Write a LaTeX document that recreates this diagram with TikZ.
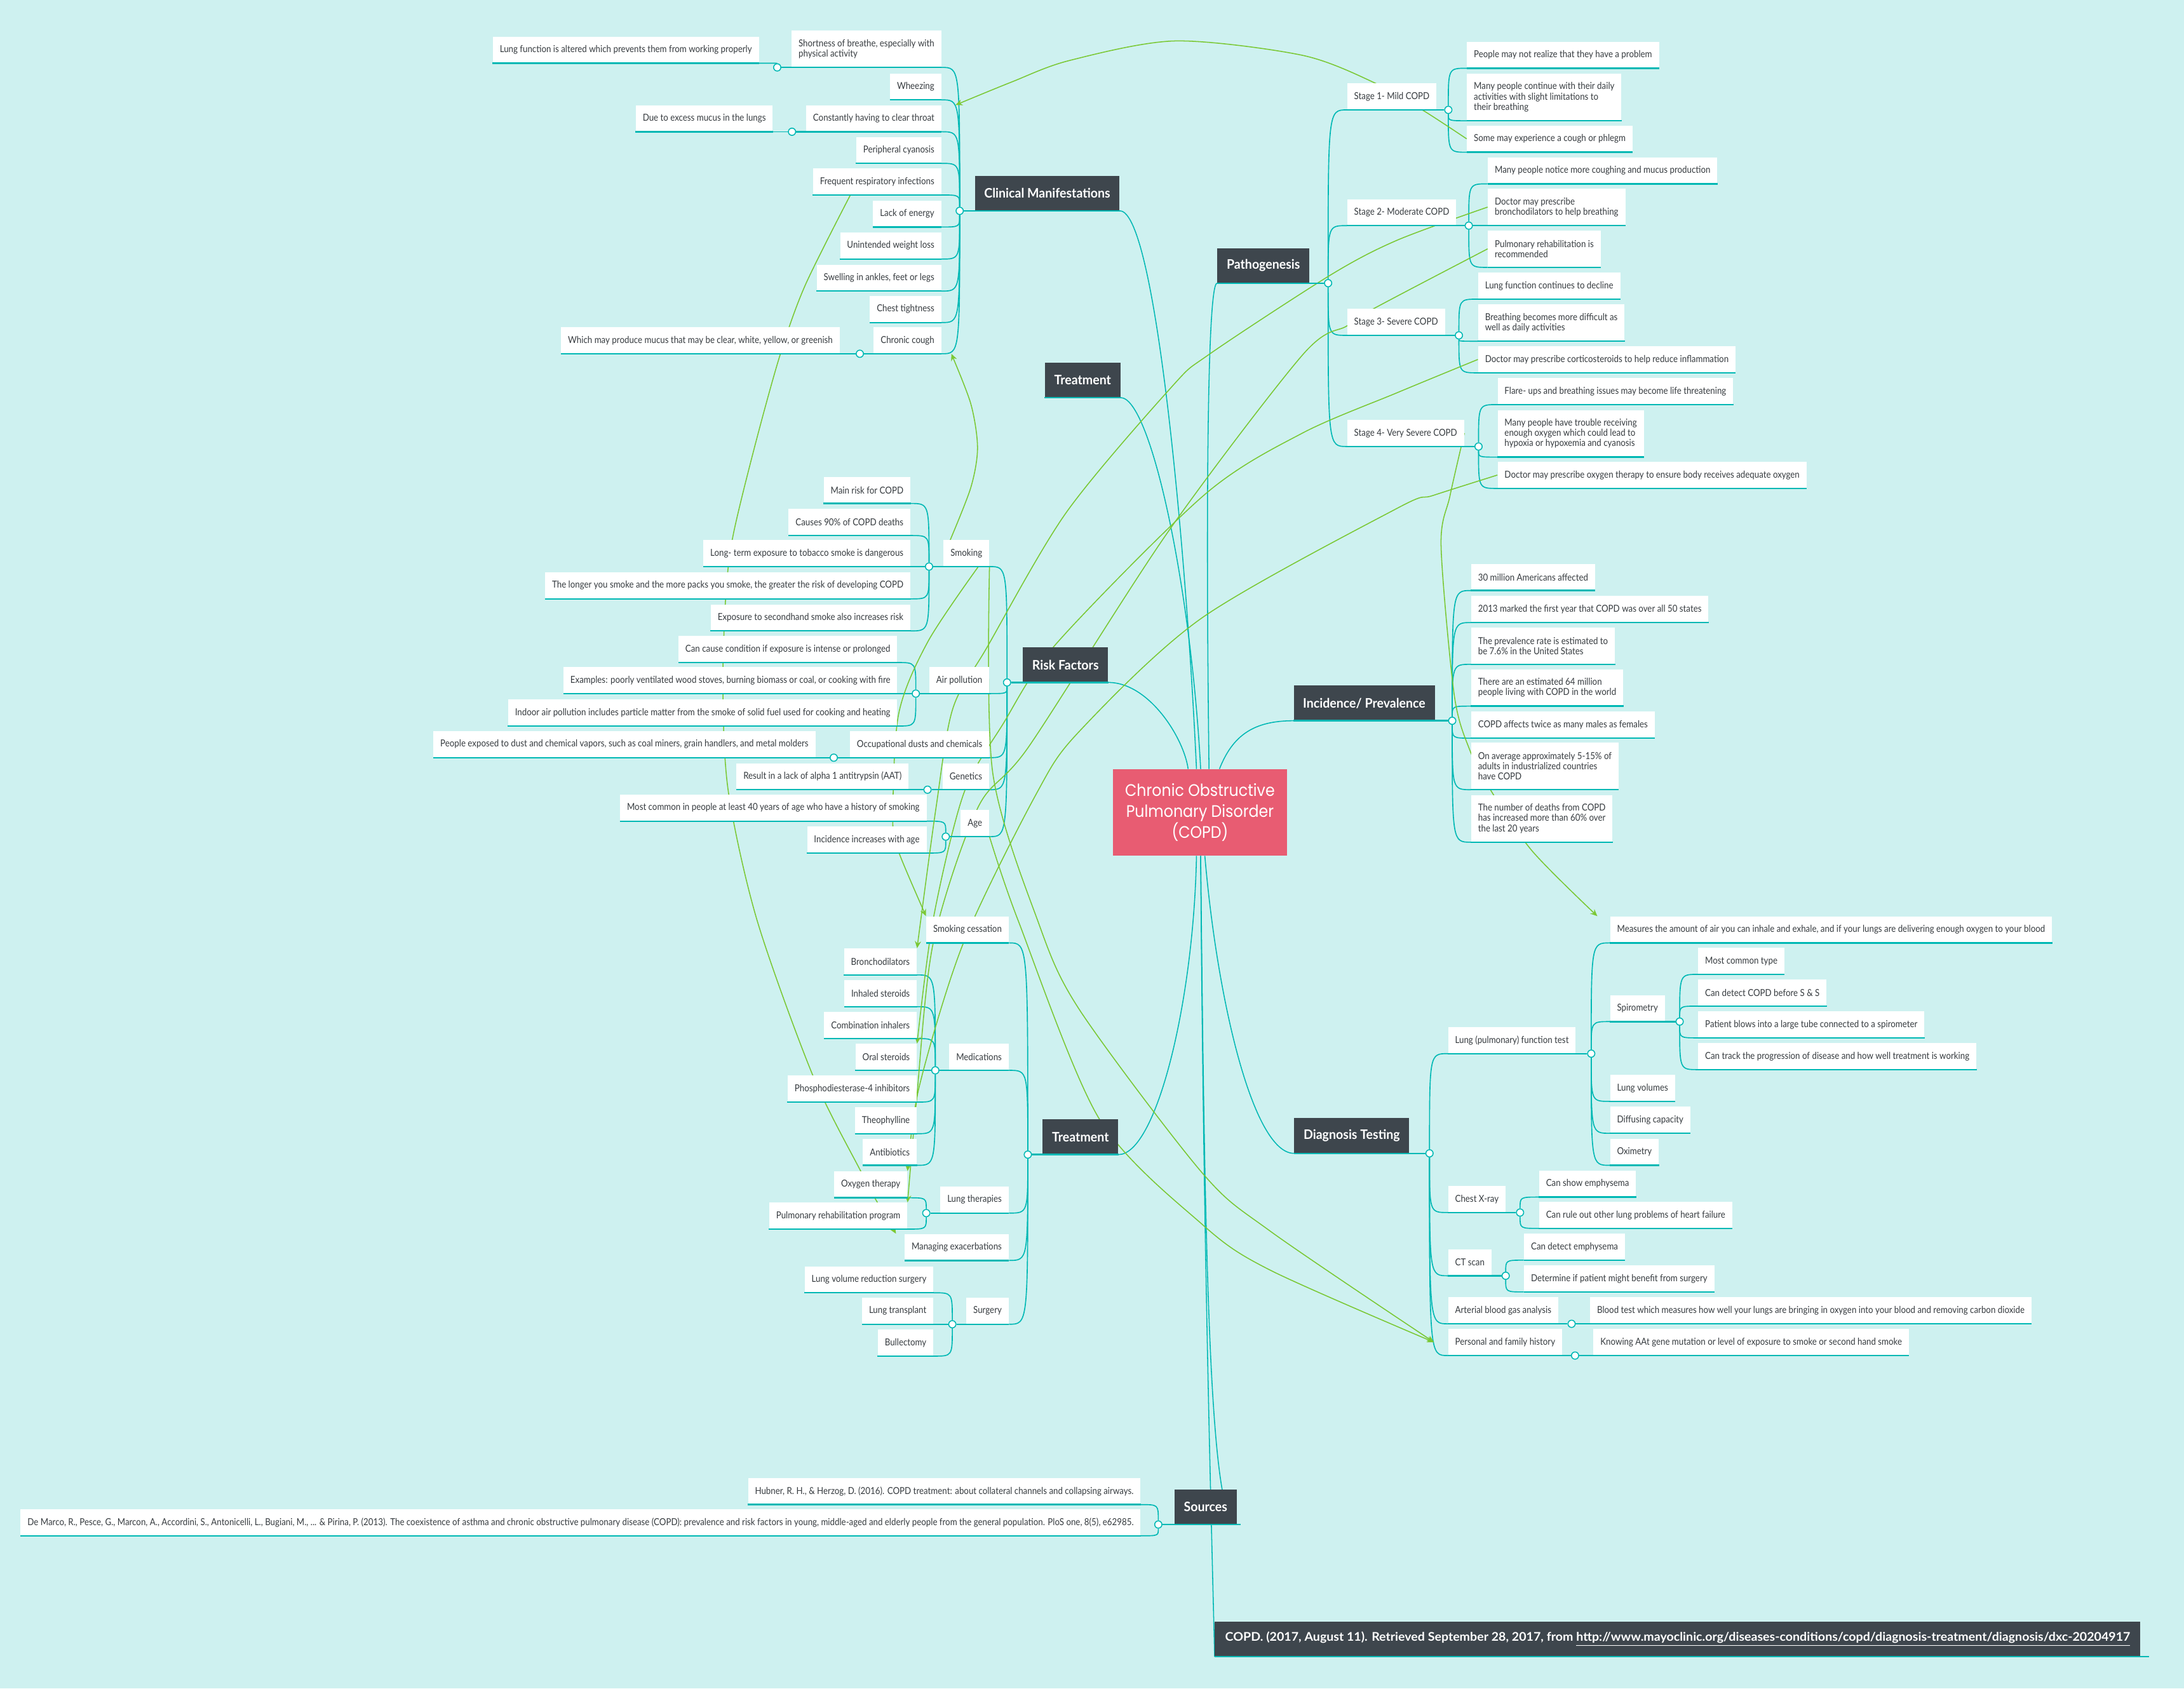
\documentclass[tikz,border=0pt]{standalone}
\usepackage{fontspec}
\usepackage{tikz}
\usetikzlibrary{arrows.meta, calc}

\setmainfont{Lato}
\newfontfamily\leaffont{Lato}[FakeStretch=0.88]
\newfontfamily\topicfont{Lato}[FakeStretch=0.95]
\newfontfamily\mayofont{Lato}[FakeStretch=1.04]
\newfontfamily\titlefont{Poppins}[FakeStretch=0.9]

\definecolor{bgcyan}{RGB}{206,241,240}
\definecolor{branchteal}{RGB}{0,184,180}
\definecolor{relgreen}{RGB}{122,200,52}
\definecolor{topicgray}{RGB}{62,70,77}
\definecolor{rootpink}{RGB}{232,92,114}
\definecolor{leaftext}{RGB}{55,60,64}

\pgfdeclarelayer{bg}
\pgfdeclarelayer{back}
\pgfsetlayers{bg,back,main}

\begin{document}
\begin{tikzpicture}[
        x=1pt, y=-1pt,
        leaf/.style={fill=white, text=leaftext, inner xsep=5pt, inner ysep=0pt, minimum height=18.8pt, align=left, font=\leaffont\fontsize{6.9pt}{7.4pt}\selectfont},
        twoline/.style={minimum height=26.2pt},
        threeline/.style={minimum height=33.6pt},
        topic/.style={fill=topicgray, text=white, inner xsep=6.7pt, inner ysep=0pt, minimum height=25pt, font=\topicfont\bfseries\fontsize{9.4pt}{11pt}\selectfont},
        rootbox/.style={fill=rootpink, text=white, minimum width=125pt, minimum height=62pt, inner sep=0pt, align=center, font=\titlefont\fontsize{12pt}{14.9pt}\selectfont},
        hub/.style={circle, draw=branchteal, fill=white, line width=0.7pt, minimum size=5.2pt, inner sep=0pt},
        uline/.style={draw=branchteal, line width=1.1pt},
        twig/.style={draw=branchteal, line width=0.75pt},
        trunk/.style={draw=branchteal, line width=0.7pt},
        rel/.style={draw=relgreen, line width=0.7pt, -{Stealth[length=5pt, width=4.4pt]}}
    ]

        \useasboundingbox (0,0) rectangle (1568,1212.3);
        \begin{pgfonlayer}{bg}
            \fill[bgcyan] (0,0) rectangle (1568,1212.3);
        \end{pgfonlayer}

        % ================= ROOT =================
        \node[rootbox] (copd) at (861.5, 583.3) {Chronic Obstructive\\Pulmonary Disorder\\(COPD)};

        % ================= TOPICS =================
        \node[topic, anchor=south east] (clin) at (804, 151.4) {Clinical Manifestations};
        \node[topic, anchor=south west] (treat0) at (750, 285.5) {Treatment};
        \node[topic, anchor=south east] (risk) at (795.7, 490) {Risk Factors};
        \node[topic, anchor=south east] (treat) at (803, 829) {Treatment};
        \node[topic, anchor=south west] (patho) at (873.8, 203.3) {Pathogenesis};
        \node[topic, anchor=south west] (incid) at (928.6, 517.5) {Incidence/ Prevalence};
        \node[topic, anchor=south west] (diag) at (929, 828.1) {Diagnosis Testing};
        \node[topic, anchor=south east] (src) at (888, 1094.6) {Sources};
        \node[topic, anchor=south west, inner xsep=7.4pt, font=\mayofont\bfseries\fontsize{8.6pt}{10pt}\selectfont] (mayo) at (872, 1189.5)
            {COPD. (2017, August 11). Retrieved September 28, 2017, from \underline{http://www.mayoclinic.org/diseases-conditions/copd/diagnosis-treatment/diagnosis/dxc-20204917}};

        % ================= CLINICAL MANIFESTATIONS =================
        \node[leaf, twoline, anchor=south east] (breath) at (676, 48.4) {Shortness of breathe, especially with\\physical activity};
        \node[leaf, anchor=south east] (wheeze) at (676, 71.7) {Wheezing};
        \node[leaf, anchor=south east] (throat) at (676, 94.6) {Constantly having to clear throat};
        \node[leaf, anchor=south east] (cyan) at (676, 117.3) {Peripheral cyanosis};
        \node[leaf, anchor=south east] (infect) at (676, 140) {Frequent respiratory infections};
        \node[leaf, anchor=south east] (energy) at (676, 163) {Lack of energy};
        \node[leaf, anchor=south east] (weight) at (676, 186) {Unintended weight loss};
        \node[leaf, anchor=south east] (swell) at (676, 209) {Swelling in ankles, feet or legs};
        \node[leaf, anchor=south east] (chest) at (676, 231.6) {Chest tightness};
        \node[leaf, anchor=south east] (cough) at (676, 254) {Chronic cough};
        \node[leaf, anchor=south east] (lungalt) at (545, 45.4) {Lung function is altered which prevents them from working properly};
        \node[leaf, anchor=south east] (mucus) at (555, 94.6) {Due to excess mucus in the lungs};
        \node[leaf, anchor=south east] (sputum) at (603, 254) {Which may produce mucus that may be clear, white, yellow, or greenish};

        % ================= RISK FACTORS =================
        \node[leaf, anchor=south east] (smoking) at (710.4, 406.8) {Smoking};
        \node[leaf, anchor=south east] (sm1) at (653.8, 361.5) {Main risk for COPD};
        \node[leaf, anchor=south east] (sm2) at (653.8, 384.5) {Causes 90\% of COPD deaths};
        \node[leaf, anchor=south east] (sm3) at (653.8, 406.8) {Long- term exposure to tobacco smoke is dangerous};
        \node[leaf, anchor=south east] (sm4) at (653.8, 430) {The longer you smoke and the more packs you smoke, the greater the risk of developing COPD};
        \node[leaf, anchor=south east] (sm5) at (653.8, 453) {Exposure to secondhand smoke also increases risk};
        \node[leaf, anchor=south east] (air) at (710.4, 498) {Air pollution};
        \node[leaf, anchor=south east] (ap1) at (644.4, 475.7) {Can cause condition if exposure is intense or prolonged};
        \node[leaf, anchor=south east] (ap2) at (644.4, 498) {Examples: poorly ventilated wood stoves, burning biomass or coal, or cooking with fire};
        \node[leaf, anchor=south east] (ap3) at (644.4, 521.3) {Indoor air pollution includes particle matter from the smoke of solid fuel used for cooking and heating};
        \node[leaf, anchor=south east] (occup) at (710.4, 544) {Occupational dusts and chemicals};
        \node[leaf, anchor=south east] (oc1) at (585.6, 544) {People exposed to dust and chemical vapors, such as coal miners, grain handlers, and metal molders};
        \node[leaf, anchor=south east] (genes) at (710.4, 567) {Genetics};
        \node[leaf, anchor=south east] (gn1) at (652.5, 567) {Result in a lack of alpha 1 antitrypsin (AAT)};
        \node[leaf, anchor=south east] (age) at (710.4, 600.7) {Age};
        \node[leaf, anchor=south east] (ag1) at (665.4, 589.6) {Most common in people at least 40 years of age who have a history of smoking};
        \node[leaf, anchor=south east] (ag2) at (665.4, 612.5) {Incidence increases with age};

        % ================= TREATMENT =================
        \node[leaf, anchor=south east] (quit) at (724.4, 677) {Smoking cessation};
        \node[leaf, anchor=south east] (meds) at (724.4, 768.5) {Medications};
        \node[leaf, anchor=south east] (bronch) at (658.4, 700) {Bronchodilators};
        \node[leaf, anchor=south east] (inhaled) at (658.4, 722.8) {Inhaled steroids};
        \node[leaf, anchor=south east] (combo) at (658.4, 745.7) {Combination inhalers};
        \node[leaf, anchor=south east] (oral) at (658.4, 768.5) {Oral steroids};
        \node[leaf, anchor=south east] (pde) at (658.4, 791.3) {Phosphodiesterase-4 inhibitors};
        \node[leaf, anchor=south east] (theo) at (658.4, 814) {Theophylline};
        \node[leaf, anchor=south east] (antib) at (658.4, 836.7) {Antibiotics};
        \node[leaf, anchor=south east] (lungth) at (724.4, 871) {Lung therapies};
        \node[leaf, anchor=south east] (oxygen) at (651.6, 860) {Oxygen therapy};
        \node[leaf, anchor=south east] (rehab) at (651.6, 882.5) {Pulmonary rehabilitation program};
        \node[leaf, anchor=south east] (exacerb) at (724.4, 905) {Managing exacerbations};
        \node[leaf, anchor=south east] (surgery) at (724.4, 950.8) {Surgery};
        \node[leaf, anchor=south east] (lvrs) at (670.3, 928.2) {Lung volume reduction surgery};
        \node[leaf, anchor=south east] (transpl) at (670.3, 950.8) {Lung transplant};
        \node[leaf, anchor=south east] (bulle) at (670.3, 973.7) {Bullectomy};

        % ================= PATHOGENESIS =================
        \node[leaf, anchor=south west] (st1) at (967, 78.9) {Stage 1- Mild COPD};
        \node[leaf, anchor=south west] (st1a) at (1053, 49) {People may not realize that they have a problem};
        \node[leaf, threeline, anchor=south west] (st1b) at (1053, 86.7) {Many people continue with their daily\\activities with slight limitations to\\their breathing};
        \node[leaf, anchor=south west] (st1c) at (1053, 109.3) {Some may experience a cough or phlegm};
        \node[leaf, anchor=south west] (st2) at (967, 162) {Stage 2- Moderate COPD};
        \node[leaf, anchor=south west] (st2a) at (1068, 132) {Many people notice more coughing and mucus production};
        \node[leaf, twoline, anchor=south west] (st2b) at (1068, 162) {Doctor may prescribe\\bronchodilators to help breathing};
        \node[leaf, twoline, anchor=south west] (st2c) at (1068, 192) {Pulmonary rehabilitation is\\recommended};
        \node[leaf, anchor=south west] (st3) at (967, 240.8) {Stage 3- Severe COPD};
        \node[leaf, anchor=south west] (st3a) at (1061, 214.8) {Lung function continues to decline};
        \node[leaf, twoline, anchor=south west] (st3b) at (1061, 245) {Breathing becomes more difficult as\\well as daily activities};
        \node[leaf, anchor=south west] (st3c) at (1061, 267.7) {Doctor may prescribe corticosteroids to help reduce inflammation};
        \node[leaf, anchor=south west] (st4) at (967, 320.6) {Stage 4- Very Severe COPD};
        \node[leaf, anchor=south west] (st4a) at (1075, 290.5) {Flare- ups and breathing issues may become life threatening};
        \node[leaf, threeline, anchor=south west] (st4b) at (1075, 328.2) {Many people have trouble receiving\\enough oxygen which could lead to\\hypoxia or hypoxemia and cyanosis};
        \node[leaf, anchor=south west] (st4c) at (1075, 350.7) {Doctor may prescribe oxygen therapy to ensure body receives adequate oxygen};

        % ================= INCIDENCE / PREVALENCE =================
        \node[leaf, anchor=south west] (inc1) at (1056, 424) {30 million Americans affected};
        \node[leaf, anchor=south west] (inc2) at (1056, 447) {2013 marked the first year that COPD was over all 50 states};
        \node[leaf, twoline, anchor=south west] (inc3) at (1056, 477) {The prevalence rate is estimated to\\be 7.6\% in the United States};
        \node[leaf, twoline, anchor=south west] (inc4) at (1056, 507) {There are an estimated 64 million\\people living with COPD in the world};
        \node[leaf, anchor=south west] (inc5) at (1056, 530) {COPD affects twice as many males as females};
        \node[leaf, threeline, anchor=south west] (inc6) at (1056, 567) {On average approximately 5-15\% of\\adults in industrialized countries\\have COPD};
        \node[leaf, threeline, anchor=south west] (inc7) at (1056, 604.7) {The number of deaths from COPD\\has increased more than 60\% over\\the last 20 years};

        % ================= DIAGNOSIS TESTING =================
        \node[leaf, anchor=south west] (lft) at (1039.5, 756.5) {Lung (pulmonary) function test};
        \node[leaf, anchor=south west] (measure) at (1155.8, 677) {Measures the amount of air you can inhale and exhale, and if your lungs are delivering enough oxygen to your blood};
        \node[leaf, anchor=south west] (spiro) at (1155.8, 733.5) {Spirometry};
        \node[leaf, anchor=south west] (sp1) at (1219, 699.6) {Most common type};
        \node[leaf, anchor=south west] (sp2) at (1219, 722.4) {Can detect COPD before S \& S};
        \node[leaf, anchor=south west] (sp3) at (1219, 745.2) {Patient blows into a large tube connected to a spirometer};
        \node[leaf, anchor=south west] (sp4) at (1219, 768) {Can track the progression of disease and how well treatment is working};
        \node[leaf, anchor=south west] (lvol) at (1155.8, 790.8) {Lung volumes};
        \node[leaf, anchor=south west] (diffus) at (1155.8, 813.7) {Diffusing capacity};
        \node[leaf, anchor=south west] (oxim) at (1155.8, 836.7) {Oximetry};
        \node[leaf, anchor=south west] (xray) at (1039.5, 870.6) {Chest X-ray};
        \node[leaf, anchor=south west] (xr1) at (1104.8, 859.5) {Can show emphysema};
        \node[leaf, anchor=south west] (xr2) at (1104.8, 882) {Can rule out other lung problems of heart failure};
        \node[leaf, anchor=south west] (ct) at (1039.5, 916) {CT scan};
        \node[leaf, anchor=south west] (ct1) at (1094, 904.8) {Can detect emphysema};
        \node[leaf, anchor=south west] (ct2) at (1094, 927.6) {Determine if patient might benefit from surgery};
        \node[leaf, anchor=south west] (abg) at (1039.5, 950.5) {Arterial blood gas analysis};
        \node[leaf, anchor=south west] (abg1) at (1141.4, 950.5) {Blood test which measures how well your lungs are bringing in oxygen into your blood and removing carbon dioxide};
        \node[leaf, anchor=south west] (hist) at (1039.5, 973.3) {Personal and family history};
        \node[leaf, anchor=south west] (hist1) at (1143.8, 973.3) {Knowing AAt gene mutation or level of exposure to smoke or second hand smoke};

        % ================= SOURCES =================
        \node[leaf, anchor=south east] (src1) at (819, 1080.3) {Hubner, R. H., \& Herzog, D. (2016). COPD treatment: about collateral channels and collapsing airways.};
        \node[leaf, anchor=south east] (src2) at (819, 1102.7) {De Marco, R., Pesce, G., Marcon, A., Accordini, S., Antonicelli, L., Bugiani, M., ... \& Pirina, P. (2013). The coexistence of asthma and chronic obstructive pulmonary disease (COPD): prevalence and risk factors in young, middle-aged and elderly people from the general population. PloS one, 8(5), e62985.};

        % ================= HUBS =================
        \foreach \h/\pos in {clinhub/{689,151.4}, breathhub/{558,48.4}, throathub/{568.6,94.6}, coughhub/{617.3,254},
                             rfhub/{723,490}, smhub/{667,406.8}, airhub/{657.5,498}, occhub/{598.6,544}, genhub/{665.9,567}, agehub/{679,600.7},
                             trhub/{737.9,829}, medhub/{671.5,768.5}, lthub/{665,871}, surghub/{683.7,950.8},
                             pathohub/{953.5,203.3}, st1hub/{1039.8,78.9}, st2hub/{1054.5,162}, st3hub/{1047.4,240.8}, st4hub/{1061.5,320.6},
                             inchub/{1042.6,517.5}, diaghub/{1026.3,828.1}, lfthub/{1142.4,756.5}, spirohub/{1205.9,733.5},
                             xrayhub/{1091.3,870.6}, cthub/{1081,916}, abghub/{1128.3,950.5}, histhub/{1130.8,973.3}, srchub/{831.6,1094.6}}
            \node[hub] (\h) at (\pos) {};

        \def\leftkids{clinhub/{breath,wheeze,throat,cyan,infect,energy,weight,swell,chest,cough}, breathhub/{lungalt}, throathub/{mucus}, coughhub/{sputum},
            rfhub/{smoking,air,occup,genes,age}, smhub/{sm1,sm2,sm3,sm4,sm5}, airhub/{ap1,ap2,ap3}, occhub/{oc1}, genhub/{gn1}, agehub/{ag1,ag2},
            trhub/{quit,meds,lungth,exacerb,surgery}, medhub/{bronch,inhaled,combo,oral,pde,theo,antib}, lthub/{oxygen,rehab}, surghub/{lvrs,transpl,bulle},
            srchub/{src1,src2}}
        \def\rightkids{pathohub/{st1,st2,st3,st4}, st1hub/{st1a,st1b,st1c}, st2hub/{st2a,st2b,st2c}, st3hub/{st3a,st3b,st3c}, st4hub/{st4a,st4b,st4c},
            inchub/{inc1,inc2,inc3,inc4,inc5,inc6,inc7}, diaghub/{lft,xray,ct,abg,hist}, lfthub/{measure,spiro,lvol,diffus,oxim},
            spirohub/{sp1,sp2,sp3,sp4}, xrayhub/{xr1,xr2}, cthub/{ct1,ct2}, abghub/{abg1}, histhub/{hist1}}

        \begin{pgfonlayer}{back}
            % Branches from the root
            \draw[trunk] ([xshift=-2.5pt]copd.north) .. controls (852,400) and (830,151.4) .. (clin.south east);
            \draw[trunk] ([xshift=0.5pt]copd.north) .. controls (855,420) and (826,285.5) .. (treat0.south east);
            \draw[trunk] ([xshift=-8.5pt]copd.north) .. controls (850,530) and (825,490) .. (risk.south east);
            \draw[trunk] ([xshift=6.5pt]copd.north) .. controls (866,400) and (866,203.3) .. (patho.south west);
            \draw[trunk] ([xshift=14pt]copd.north) .. controls (885,528) and (900,517.5) .. (incid.south west);
            \draw[trunk] ([xshift=-2.5pt]copd.south) .. controls (857,720) and (830,829) .. (treat.south east);
            \draw[trunk] ([xshift=3.5pt]copd.south) .. controls (874,720) and (900,828.1) .. (diag.south west);
            \draw[trunk] ([xshift=0.5pt]copd.south) .. controls (865,900) and (868,1094.6) .. (src.south east);
            \draw[trunk] ([xshift=0.5pt]copd.south) .. controls (864,900) and (870,1100) .. (mayo.south west);

            % Hub to child connectors
            \foreach \h/\kids in \leftkids {
                \foreach \k in \kids
                    \draw[twig] (\k.south east) .. controls (\h |- \k.south east) and (\h |- \k.south east) .. (\h);
            }
            \foreach \h/\kids in \rightkids {
                \foreach \k in \kids
                    \draw[twig] (\h) .. controls (\h |- \k.south west) and (\h |- \k.south west) .. (\k.south west);
            }

            % Relationships
            \draw[rel] plot[smooth] coordinates {(st1c.west) (1021.6,79.2) (988,60) (935,39.7) (843.7,29.4) (767.6,43.5) (726,59) ([xshift=10pt]throat.north east)};
            \draw[rel] plot[smooth] coordinates {([xshift=5pt]smoking.north west) (697,350) (701.8,321.5) (697,290) ([xshift=7pt]cough.south east)};
            \draw[rel] plot[smooth] coordinates {([xshift=27pt]infect.south west) (578,205) (560,255) (541.6,321.5) (526,386) (521,429) (519,496) (523,569) (543.6,661) (583.5,772) (618,841) (628,860) ([xshift=-6pt]exacerb.north west)};
            \draw[rel] plot[smooth] coordinates {([xshift=-8pt]smoking.south east) (666,461) (645,513.5) (641,592) (645.5,612.5) (quit.north west)};
            \draw[rel] plot[smooth] coordinates {(smoking.south east) (712.6,554) (745,661) (775,725) (863,842) (912,884) ([xshift=-10pt]hist.west)};
            \draw[rel] plot[smooth] coordinates {(age.south east) (731,661) (789,803) (863,879) (912,912) ([xshift=-10pt]hist.west)};
            \draw[rel] plot[smooth] coordinates {(st2b.west) (1003,172.5) (955,197.6) (868,254.5) (841,278) (765.5,368) (708.5,465) (684,509) (672,580) (bronch.north east)};
            \draw[rel] plot[smooth] coordinates {(st2c.west) (985.5,222) (967,234) (935,255) (838.7,381.7) (739,535.5) (702,580) (670,677) (658,790) (rehab.north east)};
            \draw[rel] plot[smooth] coordinates {(st3c.west) (1003,282) (935,311) (865,355) (758.5,462) (720,520) (691.8,570) (670,660) (oral.north east)};
            \draw[rel] plot[smooth] coordinates {(st4c.west) (1029,355.7) (1003,365) (863,443.6) (775,525) (744,570) (691.7,677) (660,780) (oxygen.north east)};
            \draw[rel] plot[smooth] coordinates {(st4.east) (1041,356) (1034.6,392) (1044,498.6) (1055,538) (1070,567) (1100,611) ([xshift=-9pt]measure.north west)};
        \end{pgfonlayer}

        % Underlines
        \foreach \h/\kids in \leftkids {
            \foreach \k in \kids
                \draw[uline] (\k.south west) -- (\k.south east);
        }
        \foreach \h/\kids in \rightkids {
            \foreach \k in \kids
                \draw[uline] (\k.south west) -- (\k.south east);
        }
        \foreach \p/\h in {clin/clinhub, breath/breathhub, throat/throathub, cough/coughhub, risk/rfhub, smoking/smhub, air/airhub,
                           occup/occhub, genes/genhub, age/agehub, treat/trhub, meds/medhub, lungth/lthub, surgery/surghub}
            \draw[uline] (\h) -- (\p.south east);
        \draw[uline] (srchub) -- ([xshift=2.6pt]src.south east);
        \foreach \p/\h in {patho/pathohub, st1/st1hub, st2/st2hub, st3/st3hub, st4/st4hub, incid/inchub, diag/diaghub,
                           lft/lfthub, spiro/spirohub, xray/xrayhub, ct/cthub, abg/abghub, hist/histhub}
            \draw[uline] (\p.south west) -- (\h);
        \draw[uline] (treat0.south west) -- (treat0.south east);
        \draw[uline] (mayo.south west) -- ([xshift=6pt]mayo.south east);

    \end{tikzpicture}
\end{document}
